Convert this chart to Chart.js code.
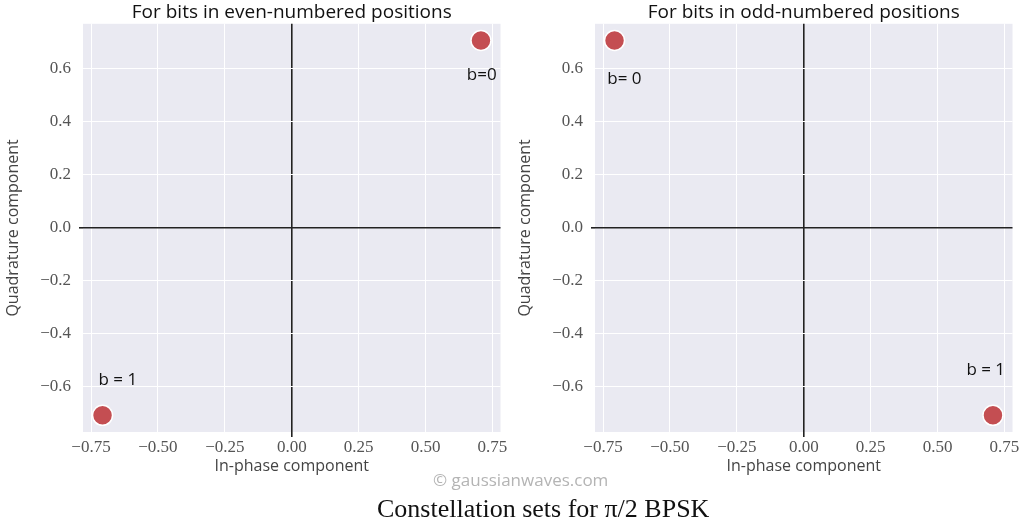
<!DOCTYPE html>
<html>
<head>
<meta charset="utf-8">
<script src="https://cdn.jsdelivr.net/npm/chart.js@4.4.0/dist/chart.umd.min.js"></script>
<style>
  html, body { margin: 0; padding: 0; background: #fff; }
  #wrap { position: relative; width: 1024px; height: 527px; overflow: hidden; }
  .panel { position: absolute; top: 0; width: 512px; height: 480px; }
  #left { left: 0; }
  #right { left: 512px; }
  #mark { position: absolute; left: 433px; top: 468px; font: 17px "Open Sans", sans-serif; color: #b4b4b4; white-space: nowrap; }
  #caption { position: absolute; left: 377px; top: 494px; font: 26px "Liberation Serif", "DejaVu Serif", serif; color: #111; white-space: nowrap; }
</style>
</head>
<body>
<div id="wrap">
  <div class="panel" id="left"><canvas id="c1" width="512" height="480"></canvas></div>
  <div class="panel" id="right"><canvas id="c2" width="512" height="480"></canvas></div>
  <div id="mark">© gaussianwaves.com</div>
  <div id="caption">Constellation sets for π/2 BPSK</div>
</div>
<script>
// constellation points (in-phase, quadrature)
const evenI = [0.707, -0.707];
const evenQ = [0.707, -0.707];
const oddI = [-0.707, 0.707];
const oddQ = [0.707, -0.707];

// bit labels next to points
const evenLabels = ["b=0", "b = 1"];
const evenLabelI = [0.71, -0.65];
const evenLabelQ = [0.575, -0.575];
const oddLabels = ["b= 0", "b = 1"];
const oddLabelI = [-0.67, 0.68];
const oddLabelQ = [0.56, -0.537];

const xTicks = [-0.75, -0.5, -0.25, 0, 0.25, 0.5, 0.75];
const yTicks = [-0.6, -0.4, -0.2, 0, 0.2, 0.4, 0.6];
const xLimit = 0.78;
const yLimit = 0.77;

const tickFont = { family: "'Liberation Serif', 'DejaVu Serif', serif", size: 17 };
const titleFont = { family: "'Open Sans', sans-serif", size: 16 };

function minus(s) { return s.replace("-", "\u2212"); }

const labelPlugin = {
  id: "bitLabels",
  afterDatasetsDraw(chart, args, opts) {
    const { ctx, scales } = chart;
    ctx.save();
    ctx.font = "17px 'Open Sans', sans-serif";
    ctx.fillStyle = "#111";
    ctx.textAlign = "center";
    ctx.textBaseline = "middle";
    opts.text.forEach((t, i) => {
      ctx.fillText(t, scales.x.getPixelForValue(opts.xs[i]), scales.y.getPixelForValue(opts.ys[i]));
    });
    ctx.restore();
  }
};

const bgPlugin = {
  id: "plotBg",
  beforeDraw(chart) {
    const { ctx, chartArea: a } = chart;
    ctx.save();
    ctx.fillStyle = "#eaeaf2";
    ctx.fillRect(a.left, a.top, a.right - a.left, a.bottom - a.top);
    ctx.restore();
  }
};

function makeChart(id, title, xs, ys, labels, lx, ly) {
  return new Chart(document.getElementById(id), {
    type: "scatter",
    data: {
      datasets: [{
        data: xs.map((x, i) => ({ x, y: ys[i] })),
        backgroundColor: "#c44e52",
        borderColor: "#ffffff",
        borderWidth: 1.5,
        pointRadius: 10,
        pointHoverRadius: 10
      }]
    },
    plugins: [bgPlugin, labelPlugin],
    options: {
      responsive: false,
      animation: false,
      layout: { padding: { left: 0, right: 9, top: 1, bottom: 0 } },
      plugins: {
        legend: { display: false },
        tooltip: { enabled: false },
        title: {
          display: true,
          fullSize: false,
          text: title,
          color: "#111",
          font: { family: "'Open Sans', sans-serif", size: 19, weight: "normal" },
          padding: { top: 0, bottom: 0 }
        },
        bitLabels: { text: labels, xs: lx, ys: ly }
      },
      scales: {
        x: {
          type: "linear",
          min: -xLimit,
          max: xLimit,
          afterBuildTicks: s => { s.ticks = xTicks.map(v => ({ value: v })); },
          afterFit: s => { s.height = 48; },
          border: { display: false },
          grid: {
            color: c => c.tick && c.tick.value === 0 ? "#222" : "#ffffff",
            lineWidth: c => c.tick && c.tick.value === 0 ? 1.6 : 1,
            tickColor: c => c.tick && c.tick.value === 0 ? "#222" : "rgba(0,0,0,0)",
            tickLength: 5
          },
          ticks: {
            color: "#555",
            font: tickFont,
            padding: 0,
            maxRotation: 0,
            callback: v => minus(v.toFixed(2))
          },
          title: { display: true, text: "In-phase component", color: "#444", font: titleFont, padding: { top: 0 } }
        },
        y: {
          type: "linear",
          min: -yLimit,
          max: yLimit,
          afterBuildTicks: s => { s.ticks = yTicks.map(v => ({ value: v })); },
          afterFit: s => { s.width = 83; },
          border: { display: false },
          grid: {
            color: c => c.tick && c.tick.value === 0 ? "#222" : "#ffffff",
            lineWidth: c => c.tick && c.tick.value === 0 ? 1.6 : 1,
            tickColor: c => c.tick && c.tick.value === 0 ? "#222" : "rgba(0,0,0,0)",
            tickLength: 4
          },
          ticks: {
            color: "#555",
            font: tickFont,
            padding: 8,
            callback: v => minus(v.toFixed(1))
          },
          title: { display: true, text: "Quadrature component", color: "#444", font: titleFont, padding: { bottom: 0 } }
        }
      }
    }
  });
}

makeChart("c1", "For bits in even-numbered positions", evenI, evenQ, evenLabels, evenLabelI, evenLabelQ);
makeChart("c2", "For bits in odd-numbered positions", oddI, oddQ, oddLabels, oddLabelI, oddLabelQ);
</script>
</body>
</html>
